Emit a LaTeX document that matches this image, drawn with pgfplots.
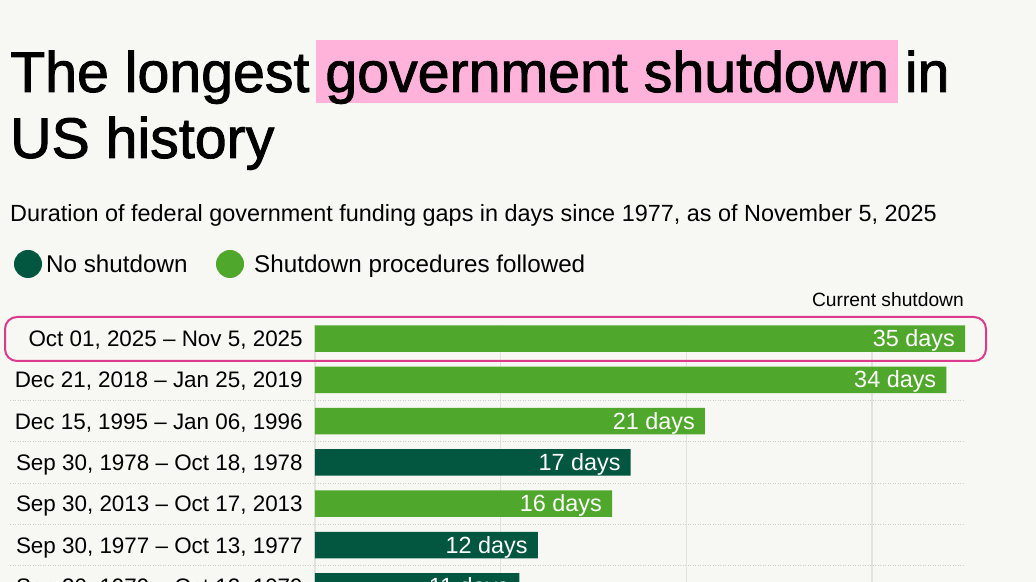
\documentclass[border=0pt]{standalone}
\usepackage{pgfplots}
\pgfplotsset{compat=1.18}
\usepackage{fontspec}
\setmainfont{Liberation Sans}
\newfontfamily\titlefont[FakeBold=1.6]{Liberation Sans}
\definecolor{bg}{HTML}{F7F7F3}
\definecolor{shutgreen}{HTML}{4FA72B}
\definecolor{nogreen}{HTML}{03563F}
\definecolor{hlpink}{HTML}{FFB3DA}
\definecolor{boxpink}{HTML}{DC3A8D}
\definecolor{gridgray}{HTML}{E2E2DE}
\definecolor{dotgray}{HTML}{CCCCCC}
\newcommand{\fs}[1]{\fontsize{#1}{#1}\selectfont}

\begin{document}
\begin{tikzpicture}
\path[use as bounding box, clip] (0,0) rectangle (1036bp,582bp);
\fill[bg] (0,0) rectangle (1036bp,582bp);

% title
\fill[hlpink] (316bp,479bp) rectangle (898bp,542bp);
\node[anchor=base west, inner sep=0, font=\titlefont\fs{57.5}] at (10bp,490bp) {The longest government shutdown in};
\node[anchor=base west, inner sep=0, font=\titlefont\fs{57.5}] at (10bp,424bp) {US history};
\node[anchor=base west, inner sep=0, font=\fs{23.5}] at (10bp,360.5bp)
  {Duration of federal government funding gaps in days since 1977, as of November 5, 2025};

% legend
\fill[nogreen] (28bp,318bp) circle (14bp);
\node[anchor=base west, inner sep=0, font=\fs{24.3}] at (46bp,309.5bp) {No shutdown};
\fill[shutgreen] (230bp,318bp) circle (14bp);
\node[anchor=base west, inner sep=0, font=\fs{24.3}] at (254bp,309.5bp) {Shutdown procedures followed};

\node[anchor=base east, inner sep=0, font=\fs{19.3}] at (964bp,275.5bp) {Current shutdown};

\begin{axis}[
  at={(10bp,-29.1bp)}, anchor=south west,
  scale only axis, width=955bp, height=285.8bp,
  xmin=-16.42, xmax=35, ymin=-0.32, ymax=6.6,
  y dir=reverse,
  xbar, bar width=26.5bp, bar shift=0pt,
  axis line style={draw=none}, major tick length=0pt,
  xtick={0,10,20,30}, xticklabels={},
  ytick={1.5,2.5,3.5,4.5,5.5}, yticklabels={},
  xmajorgrids, ymajorgrids,
  x grid style={gridgray, line width=1.3bp},
  y grid style={dotgray, line width=0.9bp, dash pattern=on 1bp off 1.5bp},
  /pgf/number format/assume math mode=true,
  point meta=x,
  nodes near coords={\pgfmathprintnumber{\pgfplotspointmeta} days},
  every node near coord/.append style={anchor=base east, xshift=-10bp, yshift=-8bp,
    text=white, font=\fs{23.5}, inner sep=0},
]
\addplot[fill=shutgreen, draw=none] coordinates {(35,0) (34,1) (21,2) (16,4)};
\addplot[fill=nogreen, draw=none] coordinates {(17,3) (12,5) (11,6)};

\node[anchor=base east, inner sep=0, font=\fs{22.5}] at (axis cs:-0.65,0) [yshift=-8bp] {Oct 01, 2025 – Nov 5, 2025};
\node[anchor=base east, inner sep=0, font=\fs{22.5}] at (axis cs:-0.65,1) [yshift=-8bp] {Dec 21, 2018 – Jan 25, 2019};
\node[anchor=base east, inner sep=0, font=\fs{22.5}] at (axis cs:-0.65,2) [yshift=-8bp] {Dec 15, 1995 – Jan 06, 1996};
\node[anchor=base east, inner sep=0, font=\fs{22.5}] at (axis cs:-0.65,3) [yshift=-8bp] {Sep 30, 1978 – Oct 18, 1978};
\node[anchor=base east, inner sep=0, font=\fs{22.5}] at (axis cs:-0.65,4) [yshift=-8bp] {Sep 30, 2013 – Oct 17, 2013};
\node[anchor=base east, inner sep=0, font=\fs{22.5}] at (axis cs:-0.65,5) [yshift=-8bp] {Sep 30, 1977 – Oct 13, 1977};
\node[anchor=base east, inner sep=0, font=\fs{22.5}] at (axis cs:-0.65,6) [yshift=-8bp] {Sep 30, 1979 – Oct 12, 1979};
\end{axis}

\draw[boxpink, line width=2bp, rounded corners=12bp] (5bp,221bp) rectangle (986bp,265bp);
\end{tikzpicture}
\end{document}
